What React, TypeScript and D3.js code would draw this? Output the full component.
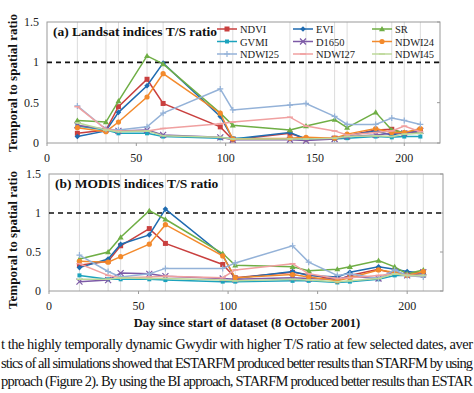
import * as d3 from 'd3'

// acquisition days (days since 8 Oct 2001)
const days = [17, 33, 40, 56, 65, 97, 104, 136, 145, 161, 168, 184, 193, 200, 209]

const seriesNames = ['NDVI', 'EVI', 'SR', 'GVMI', 'D1650', 'NDWI24', 'NDWI25', 'NDWI27', 'NDWI45']

// Landsat T/S ratios
const landsatNDVI = [0.12, 0.16, 0.45, 0.79, 0.49, 0.2, 0.04, 0.12, 0.05, 0.06, 0.09, 0.16, 0.17, 0.12, 0.16]
const landsatEVI = [0.08, 0.15, 0.38, 0.71, 0.99, 0.33, 0.05, 0.13, 0.05, 0.05, 0.09, 0.15, 0.1, 0.13, 0.14]
const landsatSR = [0.28, 0.26, 0.52, 1.08, 0.98, 0.37, 0.22, 0.16, 0.21, 0.29, 0.19, 0.38, 0.16, 0.13, 0.14]
const landsatGVMI = [0.21, 0.16, 0.12, 0.12, 0.08, 0.06, 0.06, 0.05, 0.05, 0.05, 0.06, 0.08, 0.07, 0.08, 0.08]
const landsatD1650 = [0.22, 0.17, 0.15, 0.16, 0.1, 0.07, 0.04, 0.04, 0.03, 0.05, 0.08, 0.1, 0.12, 0.12, 0.15]
const landsatNDWI24 = [0.19, 0.14, 0.26, 0.57, 0.86, 0.37, 0.05, 0.06, 0.07, 0.06, 0.11, 0.18, 0.13, 0.13, 0.18]
const landsatNDWI25 = [0.46, 0.17, 0.16, 0.2, 0.37, 0.67, 0.41, 0.47, 0.49, 0.33, 0.23, 0.23, 0.31, 0.28, 0.23]
const landsatNDWI27 = [0.45, 0.17, 0.15, 0.15, 0.18, 0.24, 0.26, 0.32, 0.21, 0.15, 0.1, 0.13, 0.15, 0.21, 0.14]
const landsatNDWI45 = [0.25, 0.16, 0.14, 0.15, 0.09, 0.07, 0.05, 0.05, 0.05, 0.06, 0.08, 0.09, 0.08, 0.11, 0.12]

// MODIS T/S ratios
const modisNDVI = [0.33, 0.38, 0.58, 0.8, 0.61, 0.34, 0.17, 0.24, 0.21, 0.14, 0.2, 0.28, 0.22, 0.22, 0.2]
const modisEVI = [0.3, 0.41, 0.6, 0.72, 1.05, 0.46, 0.16, 0.25, 0.2, 0.18, 0.24, 0.31, 0.28, 0.25, 0.23]
const modisSR = [0.41, 0.5, 0.69, 1.03, 0.92, 0.48, 0.33, 0.31, 0.26, 0.28, 0.31, 0.39, 0.31, 0.22, 0.27]
const modisGVMI = [0.2, 0.15, 0.15, 0.15, 0.14, 0.12, 0.12, 0.13, 0.13, 0.11, 0.12, 0.15, 0.2, 0.2, 0.2]
const modisD1650 = [0.12, 0.14, 0.23, 0.22, 0.19, 0.16, 0.15, 0.17, 0.16, 0.15, 0.19, 0.16, 0.25, 0.2, 0.24]
const modisNDWI24 = [0.38, 0.37, 0.44, 0.6, 0.85, 0.45, 0.17, 0.21, 0.18, 0.13, 0.17, 0.27, 0.24, 0.2, 0.25]
const modisNDWI25 = [0.46, 0.25, 0.18, 0.22, 0.29, 0.29, 0.36, 0.58, 0.37, 0.2, 0.22, 0.16, 0.27, 0.2, 0.18]
const modisNDWI27 = [0.35, 0.2, 0.17, 0.18, 0.19, 0.17, 0.27, 0.35, 0.22, 0.16, 0.17, 0.2, 0.22, 0.2, 0.2]
const modisNDWI45 = [0.15, 0.15, 0.17, 0.16, 0.16, 0.14, 0.13, 0.15, 0.14, 0.12, 0.13, 0.16, 0.22, 0.2, 0.2]

const xTicks = [0, 50, 100, 150, 200]
const yTicks = [0, 0.5, 1, 1.5]

const landsat = [landsatNDVI, landsatEVI, landsatSR, landsatGVMI, landsatD1650, landsatNDWI24, landsatNDWI25, landsatNDWI27, landsatNDWI45]
const modis = [modisNDVI, modisEVI, modisSR, modisGVMI, modisD1650, modisNDWI24, modisNDWI25, modisNDWI27, modisNDWI45]

type Shape = 'square' | 'diamond' | 'triangle' | 'smallsquare' | 'cross' | 'circle' | 'plus' | 'dash'

const styles: { color: string; shape: Shape }[] = [
  { color: '#c9403f', shape: 'square' },
  { color: '#1f6bb0', shape: 'diamond' },
  { color: '#6fae45', shape: 'triangle' },
  { color: '#1ca3bd', shape: 'smallsquare' },
  { color: '#7c5aa6', shape: 'cross' },
  { color: '#f38a2c', shape: 'circle' },
  { color: '#94b2d8', shape: 'plus' },
  { color: '#f0a0a0', shape: 'dash' },
  { color: '#bcd89a', shape: 'dash' },
]

const serif = 'Liberation Serif, Times New Roman, serif'

function Marker({ x, y, color, shape }: { x: number; y: number; color: string; shape: Shape }) {
  switch (shape) {
    case 'square':
      return <rect x={x - 2.5} y={y - 2.5} width={5} height={5} fill={color} />
    case 'smallsquare':
      return <rect x={x - 2} y={y - 2} width={4} height={4} fill={color} />
    case 'diamond':
      return <path d={`M${x},${y - 2.8}L${x + 2.8},${y}L${x},${y + 2.8}L${x - 2.8},${y}Z`} fill={color} />
    case 'triangle':
      return <path d={`M${x},${y - 3}L${x + 3},${y + 2.2}L${x - 3},${y + 2.2}Z`} fill={color} />
    case 'circle':
      return <circle cx={x} cy={y} r={2.6} fill={color} />
    case 'cross':
      return <path d={`M${x - 3},${y - 3}L${x + 3},${y + 3}M${x + 3},${y - 3}L${x - 3},${y + 3}`} stroke={color} strokeWidth={1.2} />
    case 'plus':
      return <path d={`M${x - 3},${y}L${x + 3},${y}M${x},${y - 3}L${x},${y + 3}`} stroke={color} strokeWidth={1.2} />
    default:
      return <path d={`M${x - 3},${y}L${x + 3},${y}`} stroke={color} strokeWidth={1.5} />
  }
}

interface PanelProps {
  title: string
  values: number[][]
  left: number
  right: number
  top: number
  bottom: number
  legend?: boolean
}

function Panel({ title, values, left, right, top, bottom, legend }: PanelProps) {
  const x = d3.scaleLinear().domain([0, 220]).range([left, right])
  const y = d3.scaleLinear().domain([0, 1.5]).range([bottom, top])
  const line = d3.line<number>().x((_, i) => x(days[i])).y(d => y(d))

  const legendCols = [217, 293, 372]
  const legendRows = [top + 7, top + 19.5, top + 32]

  return (
    <g>
      {/* vertical grid at every acquisition date */}
      {days.map(d => (
        <line key={d} x1={x(d)} x2={x(d)} y1={top} y2={bottom} stroke="#dcdcdc" strokeWidth={1} />
      ))}
      <rect x={left} y={top} width={right - left} height={bottom - top} fill="none" stroke="#9a9a9a" strokeWidth={1} />
      {xTicks.map(t => (
        <g key={t}>
          <line x1={x(t)} x2={x(t)} y1={bottom} y2={bottom + 3} stroke="#9a9a9a" />
          <text x={x(t)} y={bottom + 19} textAnchor="middle" fontFamily={serif} fontSize={12} fill="#222">{t}</text>
        </g>
      ))}
      {yTicks.map(t => (
        <g key={t}>
          <line x1={right - 3} x2={right} y1={y(t)} y2={y(t)} stroke="#9a9a9a" />
          <text x={left - 8} y={y(t) + 4} textAnchor="end" fontFamily={serif} fontSize={12} fill="#222">{t}</text>
        </g>
      ))}
      <line x1={left} x2={right} y1={y(1)} y2={y(1)} stroke="#111" strokeWidth={1.6} strokeDasharray="5,4" />
      <text x={left + 6} y={top + 14} fontFamily={serif} fontSize={13.5} fontWeight="bold" fill="#111">{title}</text>

      {values.map((vals, si) => (
        <g key={seriesNames[si]}>
          <path d={line(vals) ?? ''} fill="none" stroke={styles[si].color} strokeWidth={1.5} />
          {vals.map((v, i) => (
            <Marker key={i} x={x(days[i])} y={y(v)} color={styles[si].color} shape={styles[si].shape} />
          ))}
        </g>
      ))}

      {legend && seriesNames.map((name, i) => {
        const lx = legendCols[i % 3]
        const ly = legendRows[Math.floor(i / 3)]
        return (
          <g key={name}>
            <line x1={lx} x2={lx + 20} y1={ly} y2={ly} stroke={styles[i].color} strokeWidth={1.5} />
            <Marker x={lx + 10} y={ly} color={styles[i].color} shape={styles[i].shape} />
            <text x={lx + 23} y={ly + 4} fontFamily={serif} fontSize={10.5} fill="#222">{name}</text>
          </g>
        )
      })}
    </g>
  )
}

const bodyLines = [
  't the highly temporally dynamic Gwydir with higher T/S ratio at few selected dates, aver',
  'stics of all simulations showed that ESTARFM produced better results than STARFM by using',
  'pproach (Figure 2). By using the BI approach, STARFM produced better results than ESTAR',
]

export default function App() {
  return (
    <svg width={474} height={393} style={{ position: 'absolute', left: 0, top: 0, background: '#fff' }}>
      <Panel title="(a) Landsat indices T/S ratio" values={landsat} left={47} right={440} top={22} bottom={143} legend />
      <Panel title="(b) MODIS indices T/S ratio" values={modis} left={49} right={443} top={174} bottom={291} />

      <text transform="translate(17,83) rotate(-90)" textAnchor="middle" fontFamily={serif} fontSize={13} fontWeight="bold" fill="#111">
        Temporal  to spatial ratio
      </text>
      <text transform="translate(17,240) rotate(-90)" textAnchor="middle" fontFamily={serif} fontSize={13} fontWeight="bold" fill="#111">
        Temporal  to spatial ratio
      </text>
      <text x={247} y={327} textAnchor="middle" fontFamily={serif} fontSize={12.5} fontWeight="bold" fill="#111">
        Day since start of dataset (8 October 2001)
      </text>

      {bodyLines.map((t, i) => (
        <text key={i} x={1} y={349 + i * 18.5} fontFamily={serif} fontSize={14.5} fill="#111" textLength={472} lengthAdjust="spacing">
          {t}
        </text>
      ))}
    </svg>
  )
}
